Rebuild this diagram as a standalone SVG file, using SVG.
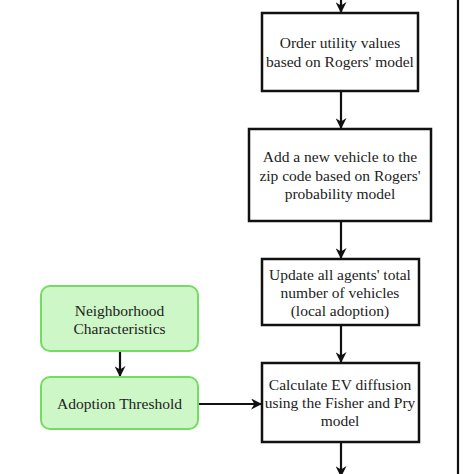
<svg xmlns="http://www.w3.org/2000/svg" width="474" height="474" viewBox="0 0 474 474">
<style>
.box{fill:#fff;stroke:#111;stroke-width:2.5}
.g{fill:#cdf7c6;stroke:#74dc62;stroke-width:2}
.t{font-size:15.5px;fill:#222;text-anchor:middle}
.c{stroke:#111;stroke-width:2.2;fill:none}
</style>
<defs>
<marker id="ah" viewBox="0 0 10 10" refX="9" refY="5" markerWidth="5" markerHeight="5" orient="auto" markerUnits="strokeWidth">
<path d="M0,0 L10,5 L0,10 L3,5 Z" fill="#111"/>
</marker>
</defs>
<rect width="474" height="474" fill="#fff"/>
<g id="connectors">
<line class="c" x1="341" y1="0" x2="341" y2="12" marker-end="url(#ah)"/>
<line class="c" x1="341" y1="91" x2="341" y2="128" marker-end="url(#ah)"/>
<line class="c" x1="341" y1="221" x2="341" y2="258" marker-end="url(#ah)"/>
<line class="c" x1="341" y1="325" x2="341" y2="362" marker-end="url(#ah)"/>
<line class="c" x1="341" y1="442" x2="341" y2="476" marker-end="url(#ah)"/>
<line class="c" x1="120" y1="351" x2="120" y2="376" marker-end="url(#ah)"/>
<line class="c" x1="198" y1="404" x2="261" y2="404" marker-end="url(#ah)"/>
<line class="c" x1="458" y1="0" x2="458" y2="474"/>
</g>
<g font-family="Liberation Serif, serif">
<g id="n1">
<rect class="box" x="262" y="13" width="156" height="78"/>
<text class="t" x="340" y="48">Order utility values</text>
<text class="t" x="340" y="67">based on Rogers' model</text>
</g>
<g id="n2">
<rect class="box" x="249" y="129" width="182" height="92"/>
<text class="t" x="340" y="162">Add a new vehicle to the</text>
<text class="t" x="340" y="181">zip code based on Rogers'</text>
<text class="t" x="340" y="199">probability model</text>
</g>
<g id="n3">
<rect class="box" x="262" y="259" width="157" height="66"/>
<text class="t" x="340" y="280">Update all agents' total</text>
<text class="t" x="340" y="298">number of vehicles</text>
<text class="t" x="340" y="316">(local adoption)</text>
</g>
<g id="n4">
<rect class="box" x="262" y="363" width="157" height="79"/>
<text class="t" x="340" y="390">Calculate EV diffusion</text>
<text class="t" x="340" y="408">using the Fisher and Pry</text>
<text class="t" x="340" y="426">model</text>
</g>
<g id="n5">
<rect class="g" x="41" y="286" width="157" height="65" rx="9"/>
<text class="t" x="119.5" y="316">Neighborhood</text>
<text class="t" x="119.5" y="334">Characteristics</text>
</g>
<g id="n6">
<rect class="g" x="41" y="377" width="157" height="52" rx="9"/>
<text class="t" x="119.5" y="409">Adoption Threshold</text>
</g>
</g>
</svg>
